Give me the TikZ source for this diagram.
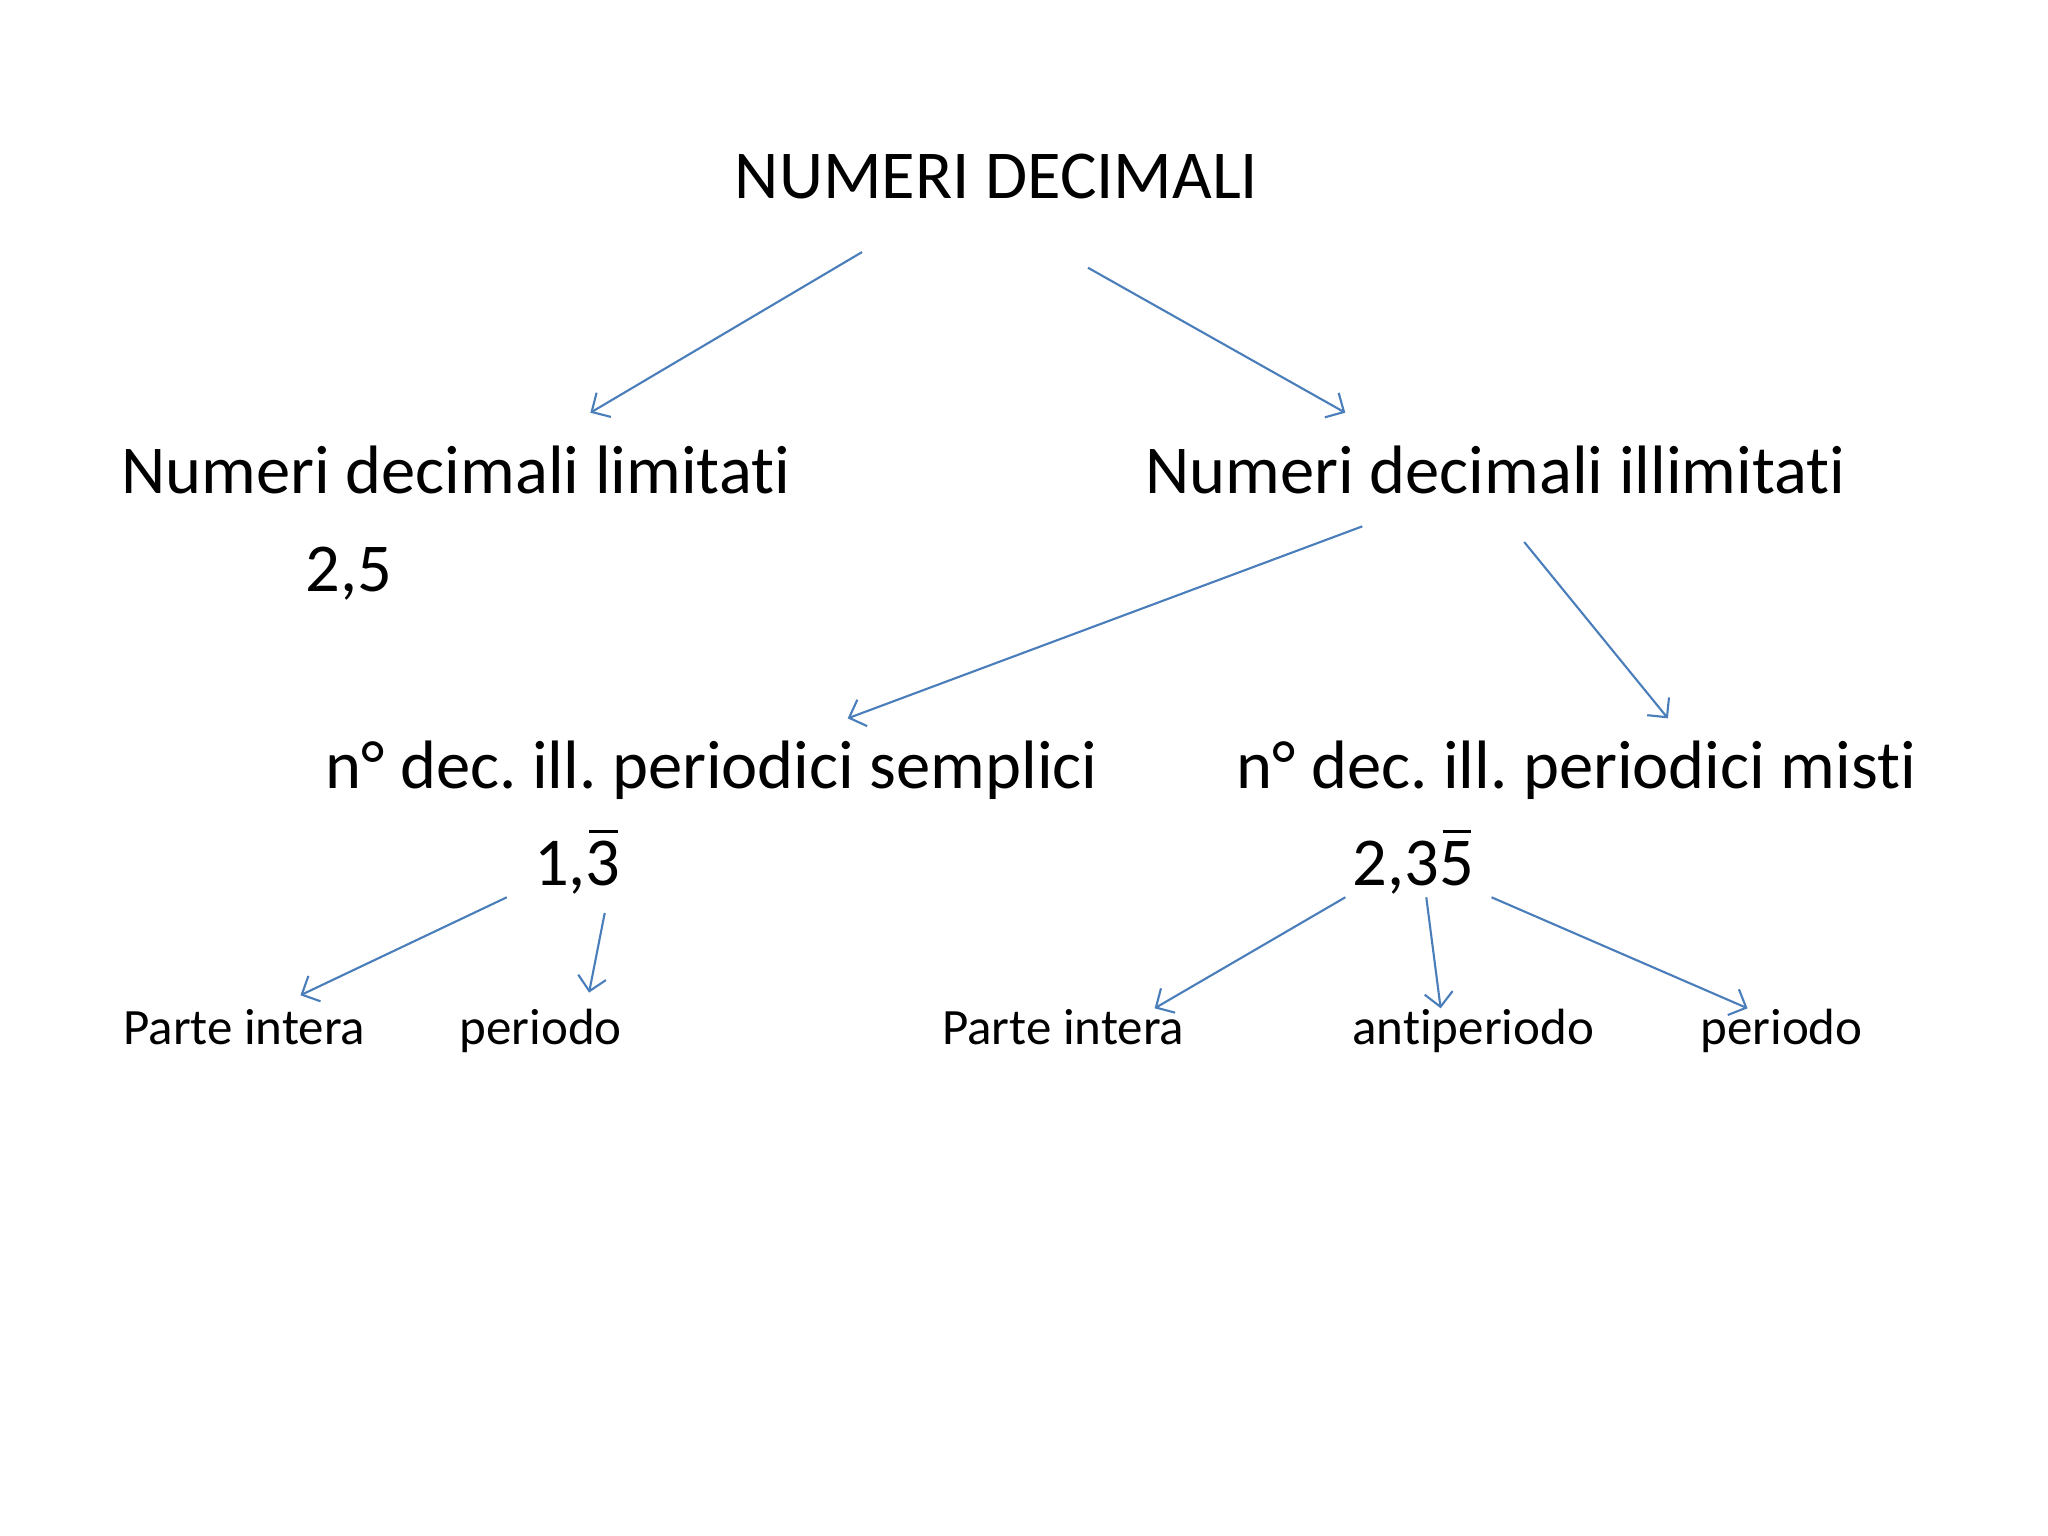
\documentclass[tikz,border=0pt]{standalone}
\usepackage{fontspec}
\setmainfont{Carlito}[Ligatures=NoCommon]
\usetikzlibrary{arrows.meta}
\definecolor{bluFreccia}{HTML}{4A7EBB}
\tikzset{
  grande/.style={font=\fontsize{19.5}{23}\selectfont, anchor=base, inner sep=0pt},
  piccolo/.style={font=\fontsize{14.5}{17}\selectfont, anchor=base, inner sep=0pt},
  freccia/.style={draw=bluFreccia, line width=0.6pt, -{Straight Barb[length=4pt,width=8pt]}}
}
\newcommand{\freccia}[2]{ \draw[freccia] (#1) -- (#2);}
\newcommand{\periodo}[1]{\rlap{\hspace{0.05em}\raisebox{0.76em}{\rule{0.42em}{0.055em}}}#1}
\frenchspacing

\begin{document}
\begin{tikzpicture}[x=0.0130612cm, y=-0.0130612cm]
        \useasboundingbox[fill=white] (0,0) rectangle (1568,1176);
        % livello 1
        \node[grande] (radice) at (763,152) {NUMERI DECIMALI};
        % livello 2
        \node[grande] (limitati) at (349,378) {Numeri decimali limitati};
        \node[grande] (illimitati) at (1145,378) {Numeri decimali illimitati};
        \node[grande] (es25) at (267,453) {2,5};
        % livello 3
        \node[grande] (semplici) at (545,604) {n° dec. ill. periodici semplici};
        \node[grande] (misti) at (1207,604) {n° dec. ill. periodici misti};
        \node[grande] (es13) at (442,678) {1,\periodo{3}};
        \node[grande] (es235) at (1082,678) {2,3\periodo{5}};
        % livello 4
        \node[piccolo] (interaS) at (187,800) {Parte intera};
        \node[piccolo] (periodoS) at (414,800) {periodo};
        \node[piccolo] (interaM) at (814,800) {Parte intera};
        \node[piccolo] (antiM) at (1128,800) {antiperiodo};
        \node[piccolo] (periodoM) at (1364,800) {periodo};
        % estremi delle frecce
        \coordinate (r1) at (660,193);
        \coordinate (r2) at (833,205);
        \coordinate (l1) at (452,316);
        \coordinate (i1) at (1030,316);
        \coordinate (i2) at (1043,403);
        \coordinate (i3) at (1167,415);
        \coordinate (s1) at (649,550);
        \coordinate (m1) at (1277,550);
        \coordinate (s2) at (388,687);
        \coordinate (s3) at (463,699);
        \coordinate (s4) at (230,762);
        \coordinate (s5) at (451,760);
        \coordinate (m2) at (1030,687);
        \coordinate (m3) at (1092,687);
        \coordinate (m4) at (1142,687);
        \coordinate (m5) at (884,772);
        \coordinate (m6) at (1103,772);
        \coordinate (m7) at (1338,772);
        % frecce
        \freccia{r1}{l1}
        \freccia{r2}{i1}
        \freccia{i2}{s1}
        \freccia{i3}{m1}
        \freccia{s2}{s4}
        \freccia{s3}{s5}
        \freccia{m2}{m5}
        \freccia{m3}{m6}
        \freccia{m4}{m7}
\end{tikzpicture}
\end{document}
